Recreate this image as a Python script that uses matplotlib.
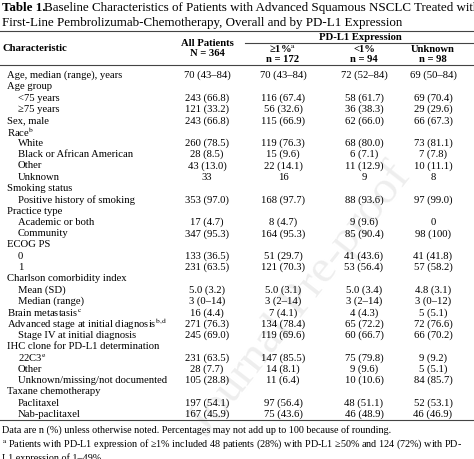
import matplotlib
matplotlib.use("Agg")
import matplotlib.pyplot as plt

plt.rcParams['font.family'] = ['Liberation Serif', 'DejaVu Serif']
plt.rcParams['mathtext.fontset'] = 'stix'

title_bold = "Table 1."
title1 = "Baseline Characteristics of Patients with Advanced Squamous NSCLC Treated with"
title2 = "First-Line Pembrolizumab-Chemotherapy, Overall and by PD-L1 Expression"

# (label, indent, all, >=1%, <1%, unknown)
rows = [
    ("Age, median (range), years", 0, "70 (43–84)", "70 (43–84)", "72 (52–84)", "69 (50–84)"),
    ("Age group", 0, "", "", "", ""),
    ("<75 years", 1, "243 (66.8)", "116 (67.4)", "58 (61.7)", "69 (70.4)"),
    ("≥75 years", 1, "121 (33.2)", "56 (32.6)", "36 (38.3)", "29 (29.6)"),
    ("Sex, male", 0, "243 (66.8)", "115 (66.9)", "62 (66.0)", "66 (67.3)"),
    (r"Race$^{\mathrm{b}}$", 0, "", "", "", ""),
    ("White", 1, "260 (78.5)", "119 (76.3)", "68 (80.0)", "73 (81.1)"),
    ("Black or African American", 1, "28 (8.5)", "15 (9.6)", "6 (7.1)", "7 (7.8)"),
    ("Other", 1, "43 (13.0)", "22 (14.1)", "11 (12.9)", "10 (11.1)"),
    ("Unknown", 1, "33", "16", "9", "8"),
    ("Smoking status", 0, "", "", "", ""),
    ("Positive history of smoking", 1, "353 (97.0)", "168 (97.7)", "88 (93.6)", "97 (99.0)"),
    ("Practice type", 0, "", "", "", ""),
    ("Academic or both", 1, "17 (4.7)", "8 (4.7)", "9 (9.6)", "0"),
    ("Community", 1, "347 (95.3)", "164 (95.3)", "85 (90.4)", "98 (100)"),
    ("ECOG PS", 0, "", "", "", ""),
    ("0", 1, "133 (36.5)", "51 (29.7)", "41 (43.6)", "41 (41.8)"),
    ("1", 1, "231 (63.5)", "121 (70.3)", "53 (56.4)", "57 (58.2)"),
    ("Charlson comorbidity index", 0, "", "", "", ""),
    ("Mean (SD)", 1, "5.0 (3.2)", "5.0 (3.1)", "5.0 (3.4)", "4.8 (3.1)"),
    ("Median (range)", 1, "3 (0–14)", "3 (2–14)", "3 (2–14)", "3 (0–12)"),
    (r"Brain metastasis$^{\mathrm{c}}$", 0, "16 (4.4)", "7 (4.1)", "4 (4.3)", "5 (5.1)"),
    (r"Advanced stage at initial diagnosis$^{\mathrm{b,d}}$", 0, "271 (76.3)", "134 (78.4)", "65 (72.2)", "72 (76.6)"),
    ("Stage IV at initial diagnosis", 1, "245 (69.0)", "119 (69.6)", "60 (66.7)", "66 (70.2)"),
    ("IHC clone for PD-L1 determination", 0, "", "", "", ""),
    (r"22C3$^{\mathrm{e}}$", 1, "231 (63.5)", "147 (85.5)", "75 (79.8)", "9 (9.2)"),
    ("Other", 1, "28 (7.7)", "14 (8.1)", "9 (9.6)", "5 (5.1)"),
    ("Unknown/missing/not documented", 1, "105 (28.8)", "11 (6.4)", "10 (10.6)", "84 (85.7)"),
    ("Taxane chemotherapy", 0, "", "", "", ""),
    ("Paclitaxel", 1, "197 (54.1)", "97 (56.4)", "48 (51.1)", "52 (53.1)"),
    ("Nab-paclitaxel", 1, "167 (45.9)", "75 (43.6)", "46 (48.9)", "46 (46.9)"),
]
footnotes = [
    "Data are n (%) unless otherwise noted. Percentages may not add up to 100 because of rounding.",
    r"$^{\mathrm{a}}$ Patients with PD-L1 expression of ≥1% included 48 patients (28%) with PD-L1 ≥50% and 124 (72%) with PD-",
    "L1 expression of 1–49%.",
]

fig = plt.figure(figsize=(4.74, 4.60), dpi=100)
ax = fig.add_axes([0, 0, 1, 1])
ax.set_xlim(0, 474); ax.set_ylim(460, 0); ax.axis('off')

fs = 7.7
tfs = 9.4
ax.text(2, 8, title_bold, fontsize=tfs, weight='bold', va='center')
ax.text(44, 8, title1, fontsize=tfs, va='center')
ax.text(2, 23, title2, fontsize=tfs, va='center')

ax.plot([0, 474], [31.5, 31.5], color='#444', lw=0.8)
ax.plot([245, 474], [44, 44], color='#444', lw=0.8)
ax.plot([0, 474], [66, 66], color='#444', lw=0.8)
ax.plot([0, 474], [421, 421], color='#444', lw=0.8)

cols = [207, 283, 364, 433]
ax.text(360, 37.5, "PD-L1 Expression", fontsize=fs, weight='bold', ha='center', va='center')
ax.text(3, 48.5, "Characteristic", fontsize=fs, weight='bold', va='center')
ax.text(cols[0], 43, "All Patients", fontsize=fs, weight='bold', ha='center', va='center')
ax.text(cols[0], 54, "N = 364", fontsize=fs, weight='bold', ha='center', va='center')
hdr1 = [r"≥1%$^{\mathrm{a}}$", "<1%", "Unknown"]
hdr2 = ["n = 172", "n = 94", "n = 98"]
for c, h1, h2 in zip(cols[1:], hdr1, hdr2):
    ax.text(c, 49, h1, fontsize=fs, weight='bold', ha='center', va='center')
    ax.text(c, 60, h2, fontsize=fs, weight='bold', ha='center', va='center')

y0, dy = 75.5, 11.3
for i, (lab, ind, *vals) in enumerate(rows):
    y = y0 + i * dy
    ax.text(7 + ind * 11, y, lab, fontsize=fs, va='center')
    for c, v in zip(cols, vals):
        ax.text(c, y, v, fontsize=fs, ha='center', va='center')

for i, f in enumerate(footnotes):
    ax.text(2, 430 + i * 14, f, fontsize=7.3, va='center')

ax.text(300, 300, "Journal Pre-proof", fontsize=34, rotation=52, color='#eeeeee',
        ha='center', va='center', zorder=0)

fig.savefig("out.png", dpi=100)
